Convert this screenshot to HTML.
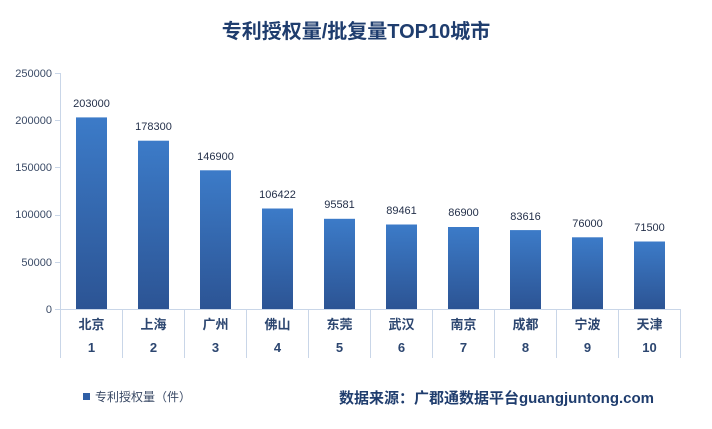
<!DOCTYPE html>
<html><head><meta charset="utf-8"><style>
body{margin:0;background:#fff;width:712px;height:424px;overflow:hidden}
svg text{font-family:"Liberation Sans","Noto Sans CJK SC",sans-serif}
</style></head><body>
<svg width="712" height="424" xmlns="http://www.w3.org/2000/svg">
<defs><linearGradient id="g" x1="0" y1="0" x2="0" y2="1"><stop offset="0" stop-color="#3c7bc8"/><stop offset="1" stop-color="#2c5494"/></linearGradient></defs>
<text x="356" y="38" text-anchor="middle" font-size="20" font-weight="bold" fill="#1f3d6e">专利授权量/批复量TOP10城市</text>
<g font-size="11" fill="#3a4a66" text-anchor="end">
<text x="52" y="77">250000</text><text x="52" y="124">200000</text><text x="52" y="171">150000</text><text x="52" y="218">100000</text><text x="52" y="266">50000</text><text x="52" y="313">0</text>
</g>
<g stroke="#c9d6e8" stroke-width="1">
<line x1="60.5" y1="73" x2="60.5" y2="358"/>
<line x1="55" y1="73.5" x2="60" y2="73.5"/><line x1="55" y1="120.5" x2="60" y2="120.5"/><line x1="55" y1="167.5" x2="60" y2="167.5"/><line x1="55" y1="215.5" x2="60" y2="215.5"/><line x1="55" y1="262.5" x2="60" y2="262.5"/>
<line x1="55" y1="309.5" x2="680" y2="309.5"/>
<line x1="122.5" y1="309" x2="122.5" y2="358"/><line x1="184.5" y1="309" x2="184.5" y2="358"/><line x1="246.5" y1="309" x2="246.5" y2="358"/><line x1="308.5" y1="309" x2="308.5" y2="358"/><line x1="370.5" y1="309" x2="370.5" y2="358"/><line x1="432.5" y1="309" x2="432.5" y2="358"/><line x1="494.5" y1="309" x2="494.5" y2="358"/><line x1="556.5" y1="309" x2="556.5" y2="358"/><line x1="618.5" y1="309" x2="618.5" y2="358"/><line x1="680.5" y1="309" x2="680.5" y2="358"/>
</g>
<g fill="url(#g)">
<rect x="76" y="117.4" width="31" height="191.6"/>
<rect x="138" y="140.7" width="31" height="168.3"/>
<rect x="200" y="170.3" width="31" height="138.7"/>
<rect x="262" y="208.5" width="31" height="100.5"/>
<rect x="324" y="218.8" width="31" height="90.2"/>
<rect x="386" y="224.5" width="31" height="84.5"/>
<rect x="448" y="227" width="31" height="82"/>
<rect x="510" y="230.1" width="31" height="78.9"/>
<rect x="572" y="237.3" width="31" height="71.7"/>
<rect x="634" y="241.5" width="31" height="67.5"/>
</g>
<g font-size="11" fill="#24304a" text-anchor="middle">
<text x="91.5" y="107">203000</text><text x="153.5" y="130">178300</text><text x="215.5" y="160">146900</text><text x="277.5" y="198">106422</text><text x="339.5" y="208">95581</text><text x="401.5" y="214">89461</text><text x="463.5" y="216">86900</text><text x="525.5" y="220">83616</text><text x="587.5" y="227">76000</text><text x="649.5" y="231">71500</text>
</g>
<g font-size="13" font-weight="bold" fill="#2c4670" text-anchor="middle">
<text x="91.5" y="329">北京</text><text x="153.5" y="329">上海</text><text x="215.5" y="329">广州</text><text x="277.5" y="329">佛山</text><text x="339.5" y="329">东莞</text><text x="401.5" y="329">武汉</text><text x="463.5" y="329">南京</text><text x="525.5" y="329">成都</text><text x="587.5" y="329">宁波</text><text x="649.5" y="329">天津</text>
<text x="91.5" y="352">1</text><text x="153.5" y="352">2</text><text x="215.5" y="352">3</text><text x="277.5" y="352">4</text><text x="339.5" y="352">5</text><text x="401.5" y="352">6</text><text x="463.5" y="352">7</text><text x="525.5" y="352">8</text><text x="587.5" y="352">9</text><text x="649.5" y="352">10</text>
</g>
<rect x="83" y="393" width="7" height="7" fill="#2f5fa6"/>
<text x="95" y="401" font-size="12" fill="#3a4a66">专利授权量（件）</text>
<text x="654" y="403" font-size="15" font-weight="bold" fill="#1f3d6e" text-anchor="end">数据来源：广郡通数据平台guangjuntong.com</text>
</svg>
</body></html>
